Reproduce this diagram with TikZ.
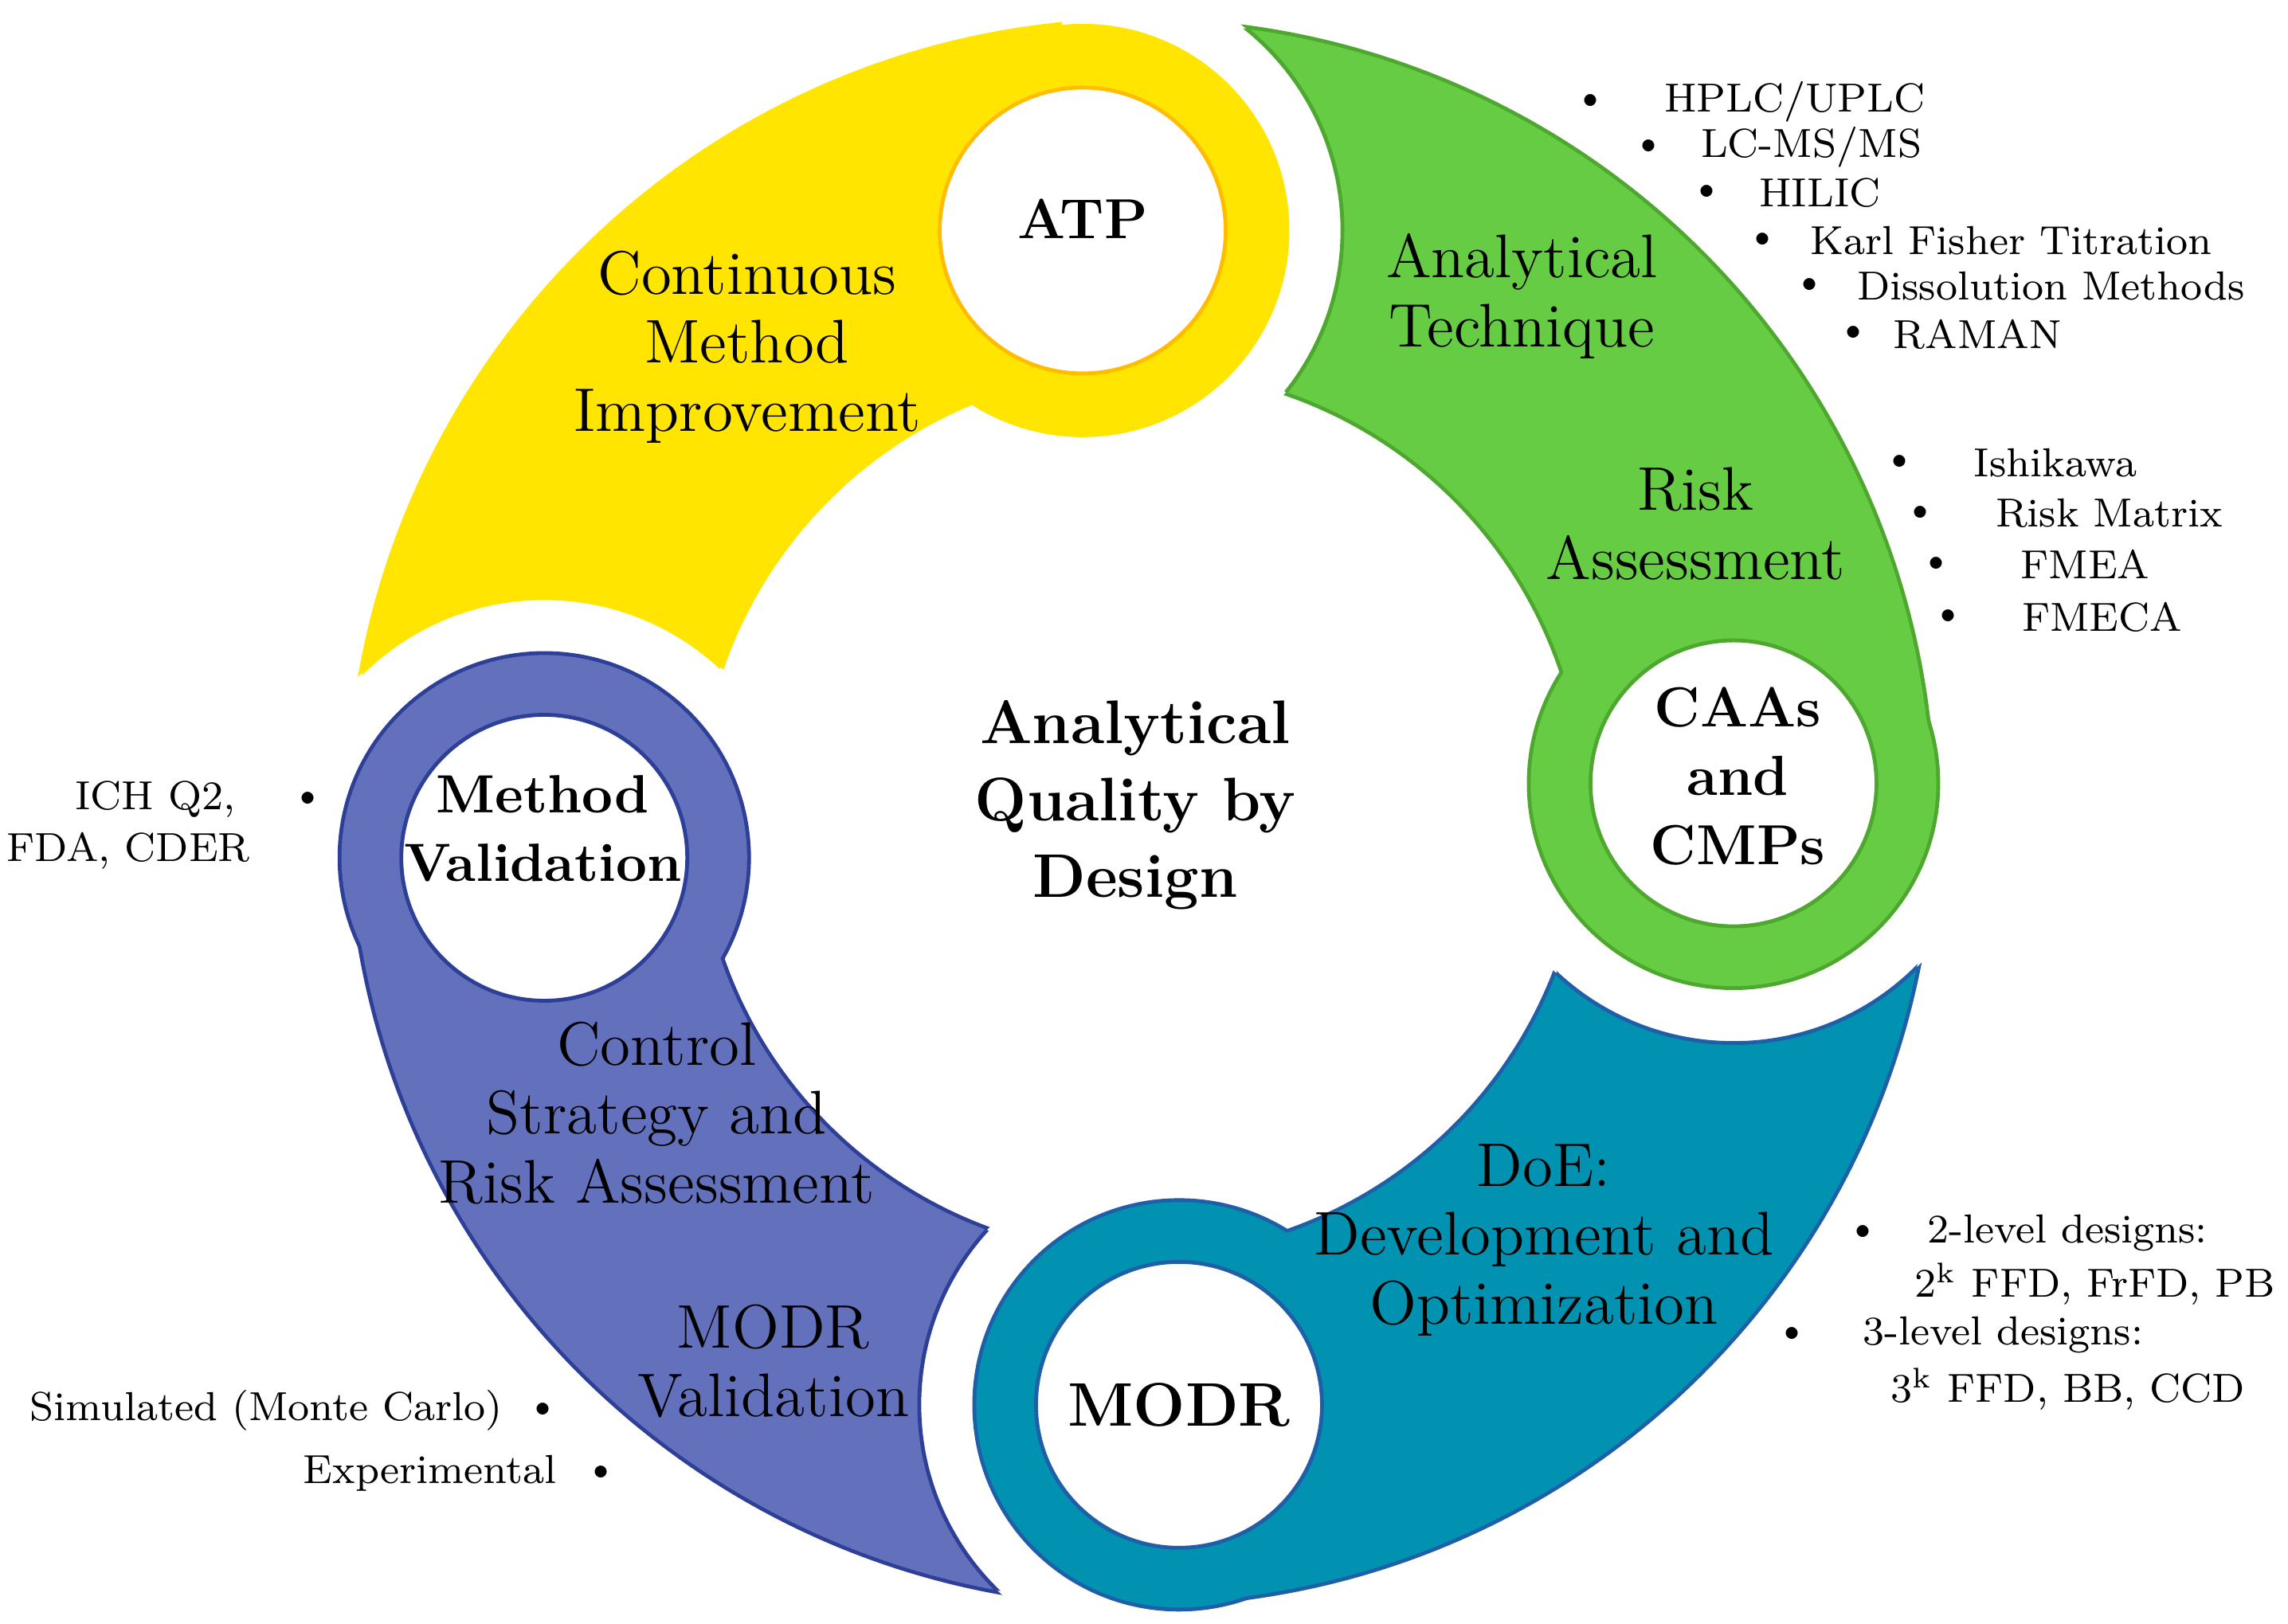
\documentclass[tikz,border=0pt]{standalone}
\usetikzlibrary{calc}
\definecolor{cyel}{HTML}{FFE500}
\definecolor{cgrn}{HTML}{66CC44}
\definecolor{cgrnO}{HTML}{4EA72E}
\definecolor{cteal}{HTML}{0092B0}
\definecolor{ctealO}{HTML}{1F5FA8}
\definecolor{cpur}{HTML}{6370BC}
\definecolor{cpurO}{HTML}{2E3F98}
\tikzset{
 lab/.style={align=center,font=\fontsize{12}{13.4}\selectfont},
 blab/.style={align=center,font=\fontsize{11}{13.4}\selectfont\bfseries},
 sm/.style={font=\fontsize{7.9}{9}\selectfont,inner sep=0pt},
 bul/.style={font=\fontsize{7.9}{9}\selectfont,inner sep=0pt}
}
\newcommand\qseg[7]{%
 \begin{scope}
  \clip (-100,-100) -- (-100,1300) -- (1700,1300) -- (1700,-100) -- cycle (#6) circle[radius=178];
  \draw[draw=#2,line width=1.5pt] ($(C)+(#3:542)$) arc[start angle=#3,end angle=#4,radius=542] -- ($(C)+(#4:305)$) arc[start angle=#4,end angle=#3,radius=305] -- cycle;
  \draw[draw=#2,line width=1.5pt] (#5) circle[radius=139];
  \fill[#1] ($(C)+(#3:542)$) arc[start angle=#3,end angle=#4,radius=542] -- ($(C)+(#4:305)$) arc[start angle=#4,end angle=#3,radius=305] -- cycle;
  \fill[#1] (#5) circle[radius=139];
 \end{scope}
 \begin{scope}
  \clip ($(C)+(#3:542)$) arc[start angle=#3,end angle=#4,radius=542] -- ($(C)+(#4:305)$) arc[start angle=#4,end angle=#3,radius=305] -- cycle;
  \draw[draw=#2,line width=0.75pt] (#6) circle[radius=178];
 \end{scope}
 \draw[draw=#7,line width=0.75pt,fill=white] (#5) circle[radius=98];
}
\begin{document}
\begin{tikzpicture}[x=0.01cm,y=-0.01cm]
\useasboundingbox (0,0) rectangle (1568,1113);
\coordinate (C) at (782,557);
\coordinate (bATP) at (742,158);
\coordinate (bCAA) at (1188,537);
\coordinate (bMOD) at (808,963);
\coordinate (bMV) at (373,588);
\qseg{cyel}{cyel}{176}{264}{bATP}{bMV}{cyel!60!orange}
\qseg{cgrn}{cgrnO}{264}{357}{bCAA}{bATP}{cgrnO}
\qseg{cteal}{ctealO}{-3}{86}{bMOD}{bCAA}{ctealO}
\qseg{cpur}{cpurO}{86}{176}{bMV}{bMOD}{cpurO}

\node[blab] (atp) at (742,150) {ATP};
\node[blab] (caa) at (1191,532) {CAAs\\and\\CMPs};
\node[blab,font=\fontsize{12}{15}\selectfont\bfseries] (mod) at (808,963) {MODR};
\node[blab,font=\fontsize{10.5}{13.4}\selectfont\bfseries] (mv) at (372,568) {Method\\Validation};
\node[blab,font=\fontsize{12}{15}\selectfont\bfseries] (aqd) at (778,552) {Analytical\\Quality by\\Design};

\node[lab] (cmi) at (512,238) {Continuous\\Method\\Improvement};
\node[lab] (at) at (1043,203) {Analytical\\Technique};
\node[lab] (ra) at (1162,359) {Risk\\Assessment};
\node[lab] (cs) at (450,763) {Control\\Strategy and\\Risk Assessment};
\node[lab] (mval) at (530,933) {MODR\\Validation};
\node[lab] (doe) at (1058,850) {DoE:\\Development and\\Optimization};

\foreach \bx/\tx/\y/\t/\n in {1090/1140/70/HPLC\slash UPLC/t1,1130/1165/101/LC-MS\slash MS/t2,1170/1205/132/HILIC/t3,1208/1240/165/Karl Fisher Titration/t4,1240/1272/196/Dissolution Methods/t5,1270/1297/229/RAMAN/t6}{
 \node[bul] (b\n) at (\bx,\y) {\textbullet};
 \node[sm,anchor=west] (\n) at (\tx,\y) {\t};
}
\foreach \bx/\tx/\y/\t/\n in {1302/1352/317/Ishikawa/r1,1316/1367/352/Risk Matrix/r2,1327/1384/387/FMEA/r3,1335/1385/423/FMECA/r4}{
 \node[bul] (b\n) at (\bx,\y) {\textbullet};
 \node[sm,anchor=west] (\n) at (\tx,\y) {\t};
}
\node[bul] (bd1) at (1277,845) {\textbullet};
\node[sm,anchor=west] (d1) at (1320,845) {2-level designs:};
\node[sm,anchor=east] (d2) at (1560,880) {2\textsuperscript{k} FFD, FrFD, PB};
\node[bul] (bd3) at (1228,915) {\textbullet};
\node[sm,anchor=west] (d3) at (1276,915) {3-level designs:};
\node[sm,anchor=west] (d4) at (1295,952) {3\textsuperscript{k} FFD, BB, CCD};
\node[bul] (bl1) at (211,548) {\textbullet};
\node[sm,anchor=east] (l1) at (162,548) {ICH Q2,};
\node[sm,anchor=east] (l2) at (172,583) {FDA, CDER};
\node[bul] (bl3) at (372,967) {\textbullet};
\node[sm,anchor=east] (l3) at (345,967) {Simulated (Monte Carlo)};
\node[bul] (bl4) at (412,1010) {\textbullet};
\node[sm,anchor=east] (l4) at (382,1010) {Experimental};
\end{tikzpicture}
\end{document}
